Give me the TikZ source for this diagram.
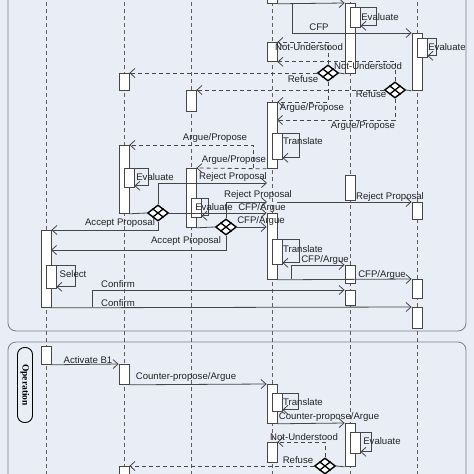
\documentclass[tikz,border=0pt]{standalone}
\usepackage{fontspec}
\setmainfont{Liberation Sans}
\newfontfamily\opfont{Liberation Serif}
\usepackage{tikz}
\usetikzlibrary{arrows.meta, shapes.geometric, calc}

\definecolor{bgc}{RGB}{232,237,246}
\definecolor{framec}{RGB}{120,128,145}
\definecolor{linec}{RGB}{70,70,70}
\definecolor{lifec}{RGB}{95,95,95}
\definecolor{txtc}{RGB}{35,35,35}

\newcommand{\actbox}[4]{\node[act, minimum height={(#4-(#3))*1pt}, anchor=north] (#1) at (#2,#3) {};}
\newcommand{\selfcall}[3]{\draw[msg] (#1.east |- #2.north) -- ++(#3,0) |- ([yshift=2pt]#2.south east);}
\newcommand{\xorgate}[3]{\node[xor] (#1) at (#2,#3) {};
  \draw[line width=1.3pt] ($(#1.north)!.5!(#1.east)$) -- ($(#1.south)!.5!(#1.west)$)
    ($(#1.north)!.5!(#1.west)$) -- ($(#1.south)!.5!(#1.east)$);}

\begin{document}
\begin{tikzpicture}[x=1pt, y=-1pt,
  act/.style={draw=linec, fill=white, line width=0.8pt, minimum width=10pt, inner sep=0pt},
  msg/.style={draw=linec, line width=0.8pt, -{Straight Barb[length=5pt, width=9pt]}},
  rep/.style={msg, dash pattern=on 4pt off 3pt},
  link/.style={draw=linec, line width=0.8pt},
  life/.style={draw=lifec, line width=0.8pt, dash pattern=on 4pt off 3pt},
  frame/.style={draw=framec, line width=0.8pt, rounded corners=8pt},
  xor/.style={diamond, draw=black, fill=white, line width=1.4pt, minimum width=21pt, minimum height=16pt, inner sep=0pt},
  lbl/.style={text=txtc, inner sep=0pt, font=\fontsize{9.6}{10}\selectfont}]
\useasboundingbox (0,0) rectangle (474,474);
\clip (0,0) rectangle (474,474);
\fill[bgc] (0,0) rectangle (474,474);
\draw[frame] (8,-20) rectangle (466,331);
\draw[frame] (8,342) rectangle (466,500);
\foreach \lx in {46,124,191,272,350,417}
  \draw[life] (\lx,-5) -- (\lx,480);

\actbox{a4top}{272}{-8}{3}
\actbox{a5ev}{350}{3}{73}
\actbox{n5ev}{355}{7}{27}
\actbox{a6ev}{417}{33}{90}
\actbox{n6ev}{422}{38}{57}
\actbox{b4nu}{272}{42}{61}
\actbox{b2rf}{124}{73}{90}
\actbox{b3rf}{191}{90}{111}
\actbox{a4ap}{272}{102}{168}
\actbox{n4ap}{277}{133}{159}
\actbox{a2ev}{124}{145}{213}
\actbox{n2ev}{129}{168}{187}
\actbox{a3ev}{191}{168}{227}
\actbox{n3ev}{196}{198}{217}
\actbox{b5rp}{350}{175}{200}
\actbox{b6rp}{417}{202}{219}
\actbox{a4cf}{272}{213}{279}
\actbox{n4cf}{277}{239}{264}
\actbox{b5cf}{350}{265}{283}
\actbox{b6cf}{417}{279}{298}
\actbox{a1se}{46}{230}{307}
\actbox{n1se}{51}{265}{288}
\actbox{b5co}{350}{290}{305}
\actbox{b6co}{417}{307}{328}
\actbox{c1}{46}{346}{364}
\actbox{c2}{124}{364}{384}
\actbox{c4}{272}{384}{423}
\actbox{n4c}{277}{393}{411}
\actbox{c5}{350}{423}{466}
\actbox{n5c}{355}{432}{453}
\actbox{c4nu}{272}{442}{462}
\actbox{c2rf}{124}{466}{490}

\selfcall{a5ev}{n5ev}{21}
\selfcall{a6ev}{n6ev}{14}
\selfcall{a4ap}{n4ap}{22}
\selfcall{a2ev}{n2ev}{19}
\selfcall{a3ev}{n3ev}{12}
\selfcall{a4cf}{n4cf}{22}
\selfcall{a1se}{n1se}{24}
\selfcall{c4}{n4c}{21}
\selfcall{c5}{n5c}{16}

\xorgate{dA}{328}{73}
\xorgate{dB}{395}{90}
\xorgate{dC}{158}{213}
\xorgate{dD}{226}{227}
\xorgate{dE}{325}{466}

\coordinate (fk1) at (292,3);
\coordinate (ap2) at (277,120);
\coordinate (fk2) at (253,168);
\coordinate (rj1) at (267,183);
\coordinate (rj2) at (267,202);
\coordinate (rj3) at (277,202);
\coordinate (ac2) at (51,250);
\coordinate (fk3) at (291,279);
\coordinate (fk4) at (92,307);

\draw[msg] (a4top.south east) -- (a5ev.north west);
\draw[msg] (fk1) |- (a6ev.north west);
\draw[link] (a5ev.south west) -- (dA.east);
\draw[rep] (dA.north) |- (b4nu.north east);
\draw[rep] (dA.west) -- (b2rf.north east);
\draw[rep] (dA.south) |- (a4ap.north east);
\draw[link] (a6ev.south west) -- (dB.east);
\draw[rep] (dB.north) |- (b4nu.south east);
\draw[rep] (dB.west) -- (b3rf.north east);
\draw[rep] (dB.south) |- (ap2);
\draw[rep] (a4ap.south west) -- (a3ev.north east);
\draw[rep] (fk2) |- (a2ev.north east);
\draw[link] (a2ev.south east) -- (dC.west);
\draw[msg] (dC.north) |- (rj1);
\draw[msg] (dC.south) |- (a1se.north east);
\draw[msg] (dC.east) -- (a4cf.north west);
\draw[link] (a3ev.south east) -- (dD.west);
\draw[msg] (dD.north) |- (rj2);
\draw[msg] (dD.east) -- (a4cf.west |- dD.east);
\draw[msg] (dD.south) |- (ac2);
\draw[msg] (rj3) -- (b6rp.north west);
\draw[msg] (a4cf.south east) -- (b6cf.north west);
\draw[msg] (fk3) |- (b5cf.north west);
\draw[msg] (a1se.south east) -- (b6co.north west);
\draw[msg] (fk4) |- (b5co.north west);
\draw[msg] (c1.south east) -- (c2.north west);
\draw[msg] (c2.south east) -- (c4.north west);
\draw[msg] (c4.south east) -- (c5.north west);
\draw[link] (c5.south west) -- (dE.east);
\draw[rep] (dE.north) |- (c4nu.north east);
\draw[rep] (dE.west) -- (c2rf.north east);

\node[lbl] (t1) at (380,17) {Evaluate};
\node[lbl] (t2) at (319,27) {CFP};
\node[lbl] (t3) at (447,47) {Evaluate};
\node[lbl] (t4) at (309,47) {Not-Understood};
\node[lbl] (t5) at (368,66) {Not-Understood};
\node[lbl] (t6) at (303,79) {Refuse};
\node[lbl] (t7) at (371,94) {Refuse};
\node[lbl] (t8) at (312,108) {Argue/Propose};
\node[lbl] (t9) at (363,126) {Argue/Propose};
\node[lbl] (t10) at (303,141) {Translate};
\node[lbl] (t11) at (215,138) {Argue/Propose};
\node[lbl] (t12) at (234,160) {Argue/Propose};
\node[lbl] (t13) at (155,177) {Evaluate};
\node[lbl] (t14) at (233,177) {Reject Proposal};
\node[lbl] (t15) at (258,195) {Reject Proposal};
\node[lbl] (t16) at (390,197) {Reject Proposal};
\node[lbl] (t17) at (214,207) {Evaluate};
\node[lbl] (t18) at (262,208) {CFP/Argue};
\node[lbl] (t19) at (261,221) {CFP/Argue};
\node[lbl] (t20) at (120,223) {Accept Proposal};
\node[lbl] (t21) at (186,241) {Accept Proposal};
\node[lbl] (t22) at (303,249) {Translate};
\node[lbl] (t23) at (325,260) {CFP/Argue};
\node[lbl] (t24) at (382,275) {CFP/Argue};
\node[lbl] (t25) at (73,274) {Select};
\node[lbl] (t26) at (118,284) {Confirm};
\node[lbl] (t27) at (118,303) {Confirm};
\node[lbl] (t28) at (88,360) {Activate B1};
\node[lbl] (t29) at (186,377) {Counter-propose/Argue};
\node[lbl] (t30) at (303,402) {Translate};
\node[lbl] (t31) at (329,417) {Counter-propose/Argue};
\node[lbl] (t32) at (304,437) {Not-Understood};
\node[lbl] (t33) at (382,441) {Evaluate};
\node[lbl] (t34) at (298,460) {Refuse};
\node[draw=black, line width=0.9pt, rounded corners=7pt, minimum width=75pt, minimum height=15pt, inner sep=0pt, rotate=-90, font=\opfont\bfseries\fontsize{9.5}{10}\selectfont] (opr) at (25,385) {Operation};
\end{tikzpicture}
\end{document}
